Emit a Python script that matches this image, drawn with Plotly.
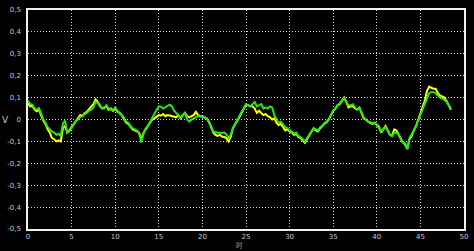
import numpy as np
import plotly.graph_objects as go

t = np.arange(0, 48.51, 0.25)

yellow = [
    .075, .06, .062, .045,  .038, .045, .02, -.005,  -.02, -.045, -.06, -.085,
    -.09, -.1, -.095, -.1,  -.04, -.03, -.06, -.05,  -.035, -.02, -.005, .005,
    .02, .015, .03, .035,  .05, .06, .07, .092,  .08, .065, .05, .055,
    .06, .045, .05, .04,  .05, .035, .03, .02,  .0, -.015, -.02, -.035,
    -.045, -.05, -.055, -.06,  -.09, -.06, -.045, -.03,  -.015, .0, .005, .012,
    .02, .018, .025, .015,  .02, .018, .015, .01,  .01, .02, .005, .02,
    .03, .015, .01, .015,  .02, .035, .02, .015,  .015, .01, .005, -.01,
    -.04, -.06, -.07, -.075,  -.07, -.078, -.08, -.085,  -.1, -.08, -.04, -.02,
    -.005, .01, .03, .05,  .068, .065, .06, .06,  .05, .03, .04, .03,
    .02, .025, .015, .01,  .0, .005, -.015, -.025,  -.02, -.035, -.05, -.045,
    -.055, -.06, -.07, -.065,  -.08, -.085, -.095, -.107,  -.09, -.075, -.06, -.04,
    -.05, -.055, -.04, -.03,  -.02, -.01, .0, .02,  .04, .05, .065, .07,
    .085, .1, .08, .055,  .06, .06, .05, .045,  .055, .03, .005, .0,
    -.01, -.015, -.02, -.015,  -.025, -.035, -.06, -.045,  -.03, -.05, -.07, -.075,
    -.045, -.05, -.07, -.09,  -.105, -.115, -.135, -.09,  -.075, -.05, -.03, .0,
    .03, .06, .085, .13,  .15, .145, .14, .14,  .12, .11, .105, .1,
    .085, .065, .045,
]

green = [
    .085, .07, .068, .05,  .045, .052, .028, .0,  -.015, -.035, -.045, -.055,
    -.06, -.07, -.065, -.075,  -.02, -.005, -.06, -.055,  -.04, -.025, -.005, .0,
    .012, .015, .025, .03,  .04, .045, .055, .08,  .075, .06, .05, .05,
    .065, .05, .045, .045,  .055, .04, .03, .02,  .01, -.01, -.015, -.03,
    -.04, -.045, -.05, -.065,  -.105, -.065, -.04, -.03,  -.01, .005, .03, .045,
    .06, .058, .05, .055,  .06, .068, .06, .04,  .03, .015, .005, .02,
    .03, .0, -.01, .0,  .005, .01, .015, .015,  .012, .01, .005, -.015,
    -.03, -.055, -.058, -.06,  -.06, -.062, -.06, -.068,  -.085, -.07, -.04, -.02,
    -.005, .015, .035, .05,  .07, .065, .06, .07,  .08, .06, .065, .07,
    .05, .055, .05, .06,  .055, .02, .0, -.015,  -.01, -.025, -.035, -.04,
    -.05, -.055, -.065, -.06,  -.075, -.08, -.09, -.1,  -.085, -.07, -.055, -.04,
    -.045, -.05, -.035, -.03,  -.015, -.015, .0, .02,  .04, .05, .065, .075,
    .085, .1, .08, .065,  .065, .07, .055, .045,  .055, .035, .01, .0,
    -.01, -.012, -.018, -.015,  -.022, -.03, -.055, -.045,  -.035, -.05, -.07, -.075,
    -.06, -.06, -.07, -.09,  -.105, -.11, -.135, -.085,  -.07, -.05, -.03, -.005,
    .025, .05, .075, .1,  .12, .125, .125, .12,  .11, .1, .095, .09,
    .08, .065, .05,
]

x_ticks = [0, 5, 10, 15, 20, 25, 30, 35, 40, 45, 50]
x_labels = ["0", "5", "10", "15", "20", "25", "30", "35", "40", "45", "50"]
y_ticks = [0.5, 0.4, 0.3, 0.2, 0.1, 0, -0.1, -0.2, -0.3, -0.4, -0.5]
y_labels = ["0,5", "0,4", "0,3", "0,2", "0,1", "0", "-0,1", "-0,2", "-0,3", "-0,4", "-0,5"]

fig = go.Figure()
fig.add_trace(go.Scatter(x=t, y=yellow, mode="lines",
                         line=dict(color="#ffff00", width=2), showlegend=False))
fig.add_trace(go.Scatter(x=t, y=green, mode="lines",
                         line=dict(color="#22e622", width=2), showlegend=False))

tickfont = dict(family="DejaVu Sans", size=7, color="#c8c8c8")
fig.update_layout(
    width=474, height=251,
    margin=dict(l=28, r=6, t=7, b=22),
    paper_bgcolor="black", plot_bgcolor="black",
    xaxis=dict(range=[0, 50], tickvals=x_ticks, ticktext=x_labels,
               showgrid=True, gridcolor="#d8d8d8", griddash="1px,2px", gridwidth=1,
               showline=True, linecolor="#f0f0f0", linewidth=1.5, mirror=True,
               zeroline=False, ticks="", tickfont=tickfont, ticklabelstandoff=0),
    yaxis=dict(range=[-0.5, 0.5], tickvals=y_ticks, ticktext=y_labels,
               showgrid=True, gridcolor="#d8d8d8", griddash="1px,2px", gridwidth=1,
               showline=True, linecolor="#f0f0f0", linewidth=1.5, mirror=True,
               zeroline=False, ticks="", tickfont=tickfont, ticklabelstandoff=4),
    annotations=[
        dict(text="V", xref="paper", yref="paper", x=-0.052, y=0.5,
             showarrow=False, font=dict(family="DejaVu Sans", size=9, color="#c8c8c8"),
             xanchor="center", yanchor="middle"),
        dict(text="时", xref="paper", yref="paper", x=0.486, y=-0.099,
             showarrow=False, font=dict(family="Noto Sans CJK SC", size=6.5, color="#a0a0a0"),
             xanchor="center", yanchor="bottom", borderpad=0),
    ],
)

fig.write_html("out.html")
